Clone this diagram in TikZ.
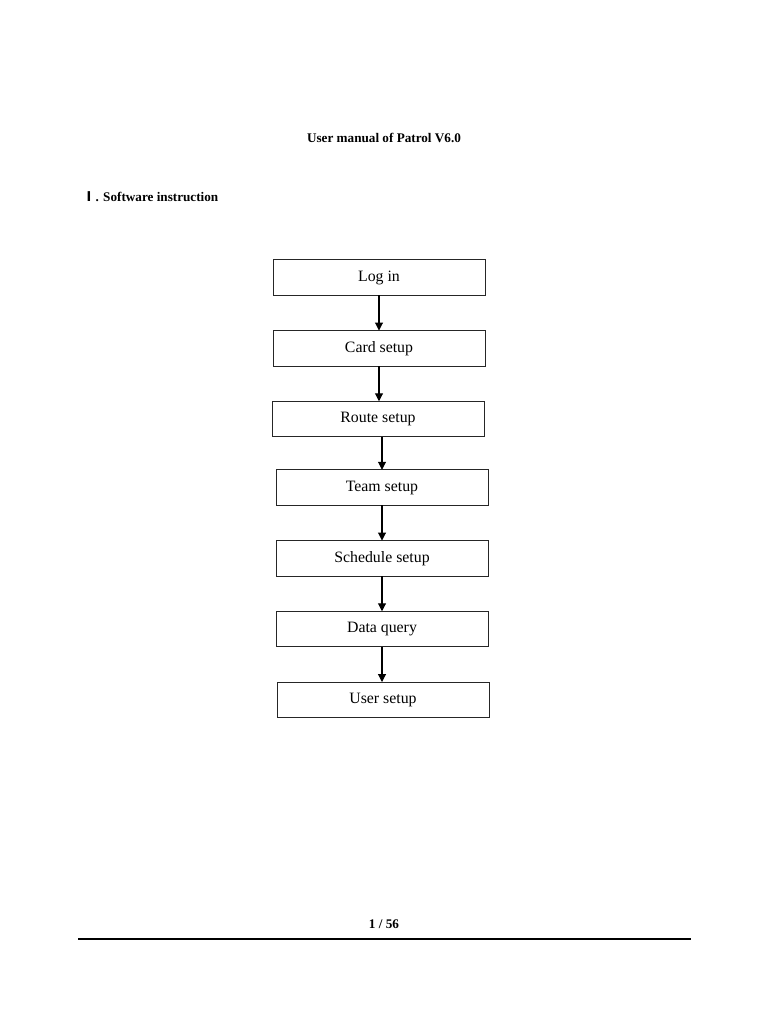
\documentclass[tikz,border=0pt]{standalone}
\usepackage{fontspec}
\setmainfont{Liberation Serif}
\newfontfamily\cjkfont{Noto Sans CJK SC}
\usepackage{tikz}
\usetikzlibrary{arrows.meta,positioning}

\begin{document}
\begin{tikzpicture}[
    node distance=0.705cm,
    every node/.style={font=\fontsize{9pt}{11pt}\selectfont},
    heading/.style={font=\fontsize{7.5pt}{9pt}\selectfont\bfseries, inner sep=0pt},
    stepbox/.style={draw=black!85, line width=0.5pt, align=center, minimum width=4.24cm, minimum height=0.71cm, inner sep=0pt, outer sep=0pt},
    arrow/.style={-{Triangle[length=4.5pt, width=4.5pt]}, line width=0.6pt}
]
\useasboundingbox (0,0) rectangle (15.36,-20.48);

\node[heading] (title) at (7.68,-2.76) {User manual of Patrol V6.0};
\node[heading, anchor=west] (section) at (1.64,-3.94) {{\cjkfont Ⅰ}. Software instruction};

\node[stepbox] (login) at (7.58,-5.55) {Log in};
\node[stepbox, below=of login] (card) {Card setup};
\node[stepbox, below=of card, xshift=-0.02cm] (route) {Route setup};
\node[stepbox, below=0.66cm of route, xshift=0.08cm] (team) {Team setup};
\node[stepbox, below=of team] (schedule) {Schedule setup};
\node[stepbox, below=of schedule] (query) {Data query};
\node[stepbox, below=of query, xshift=0.02cm] (user) {User setup};

\draw[arrow] (login) -- (card);
\draw[arrow] (card) -- (card.south |- route.north);
\draw[arrow] (team.north |- route.south) -- (team);
\draw[arrow] (team) -- (schedule);
\draw[arrow] (schedule) -- (query);
\draw[arrow] (query) -- (query.south |- user.north);

\node[heading] (page) at (7.68,-18.48) {1 / 56};
\coordinate (ruleleft) at (1.56,-18.78);
\coordinate (ruleright) at (13.82,-18.78);
\draw[line width=0.9pt] (ruleleft) -- (ruleright);
\end{tikzpicture}
\end{document}
